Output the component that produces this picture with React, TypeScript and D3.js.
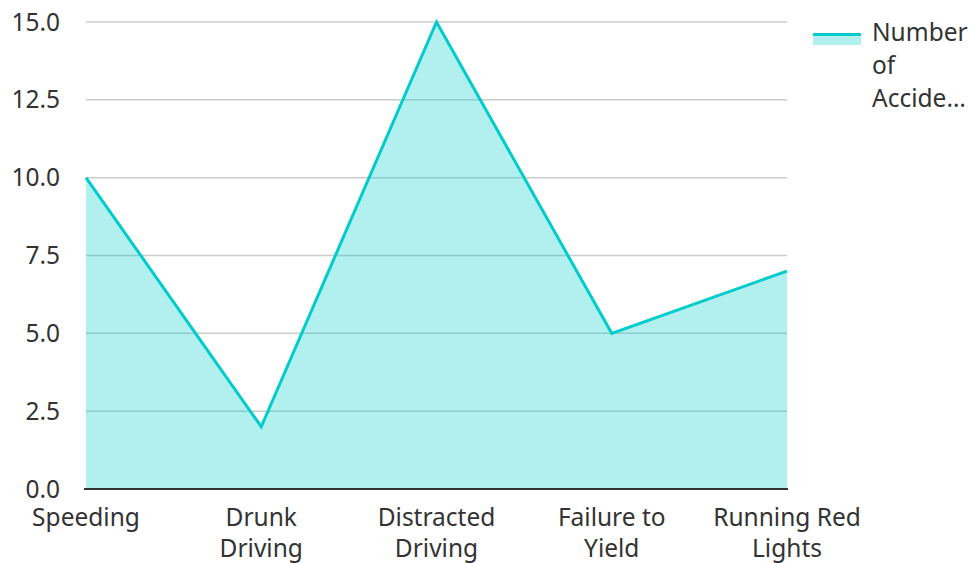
import React, { useRef, useEffect } from 'react';
import * as d3 from 'd3';

const categories = ['Speeding', 'Drunk Driving', 'Distracted Driving', 'Failure to Yield', 'Running Red Lights'];
const accidents = [10, 2, 15, 5, 7];
const yTicks = [0, 2.5, 5, 7.5, 10, 12.5, 15];
const seriesName = 'Number of Accidents';
const legendLines = ['Number', 'of', 'Accide…'];

const W = 971;
const H = 563;
const FONT = '"Noto Sans", "Open Sans", sans-serif';
const FS = 24.5;

const App: React.FC = () => {
  const svgRef = useRef<SVGSVGElement>(null);

  useEffect(() => {
    const svg = d3.select(svgRef.current);
    svg.selectAll('*').remove();

    const left = 86, right = 787, top = 22, bottom = 489;
    const x = d3.scalePoint<string>().domain(categories).range([left, right]).padding(0);
    const y = d3.scaleLinear().domain([0, 15]).range([bottom, top]);

    // grid
    svg.append('g')
      .selectAll('line')
      .data(yTicks.filter(t => t > 0))
      .enter()
      .append('line')
      .attr('x1', left)
      .attr('x2', right)
      .attr('y1', d => y(d))
      .attr('y2', d => y(d))
      .attr('stroke', '#cccccc')
      .attr('stroke-width', 1.5);

    // y labels
    svg.append('g')
      .selectAll('text')
      .data(yTicks)
      .enter()
      .append('text')
      .attr('x', 60)
      .attr('y', d => y(d))
      .attr('dy', '0.35em')
      .attr('text-anchor', 'end')
      .attr('font-family', FONT)
      .attr('font-size', FS)
      .attr('fill', '#333')
      .text(d => d.toFixed(1));

    const area = d3.area<number>()
      .x((_, i) => x(categories[i])!)
      .y0(y(0))
      .y1(d => y(d));
    const line = d3.line<number>()
      .x((_, i) => x(categories[i])!)
      .y(d => y(d));

    svg.append('path')
      .datum(accidents)
      .attr('d', area)
      .attr('fill', 'rgba(0,204,204,0.3)');

    svg.append('path')
      .datum(accidents)
      .attr('d', line)
      .attr('fill', 'none')
      .attr('stroke', '#00cccc')
      .attr('stroke-width', 3)
      .attr('stroke-linejoin', 'miter');

    // x axis line
    svg.append('line')
      .attr('x1', left - 2)
      .attr('x2', right + 1)
      .attr('y1', bottom)
      .attr('y2', bottom)
      .attr('stroke', '#333')
      .attr('stroke-width', 2);

    // x labels, wrapped
    const labels = svg.append('g')
      .selectAll('text')
      .data(categories)
      .enter()
      .append('text')
      .attr('text-anchor', 'middle')
      .attr('font-family', FONT)
      .attr('font-size', FS)
      .attr('fill', '#333');

    labels.each(function (d) {
      const t = d3.select(this);
      const words = d.split(' ');
      const lines: string[] = [];
      let cur = '';
      const probe = t.append('tspan');
      words.forEach(w => {
        const test = cur ? cur + ' ' + w : w;
        probe.text(test);
        if ((probe.node() as SVGTSpanElement).getComputedTextLength() > 155 && cur) {
          lines.push(cur);
          cur = w;
        } else {
          cur = test;
        }
      });
      lines.push(cur);
      probe.remove();
      lines.forEach((l, i) => {
        t.append('tspan')
          .attr('x', x(d)!)
          .attr('y', 526 + i * 31)
          .text(l);
      });
    });

    // legend
    const lg = svg.append('g').attr('aria-label', seriesName);
    lg.append('rect')
      .attr('x', 813)
      .attr('y', 33)
      .attr('width', 48)
      .attr('height', 12)
      .attr('fill', 'rgba(0,204,204,0.3)');
    lg.append('line')
      .attr('x1', 813)
      .attr('x2', 861)
      .attr('y1', 34.5)
      .attr('y2', 34.5)
      .attr('stroke', '#00cccc')
      .attr('stroke-width', 3);
    lg.append('text')
      .attr('font-family', FONT)
      .attr('font-size', FS)
      .attr('fill', '#333')
      .selectAll('tspan')
      .data(legendLines)
      .enter()
      .append('tspan')
      .attr('x', 872)
      .attr('y', (_, i) => 41 + i * 33)
      .text(d => d);
  }, []);

  return (
    <svg
      ref={svgRef}
      width={W}
      height={H}
      style={{ position: 'absolute', left: 0, top: 0, background: '#fff' }}
    />
  );
};

export default App;
